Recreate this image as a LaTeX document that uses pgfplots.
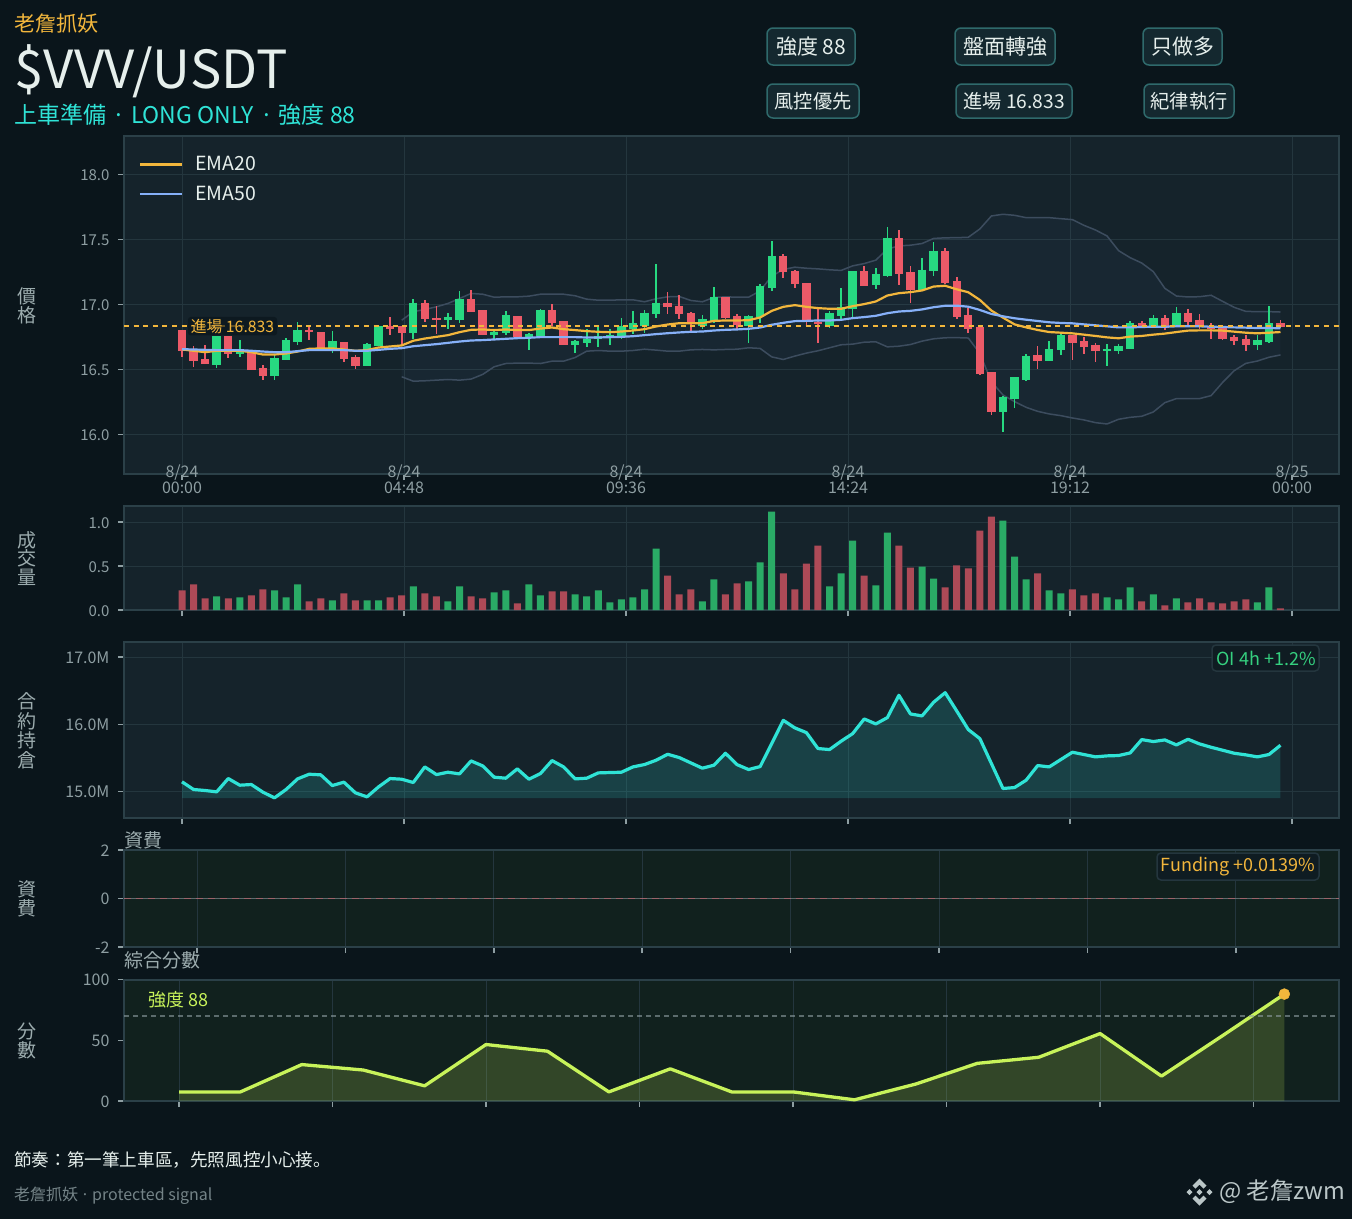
\documentclass[border=0pt]{standalone}
\usepackage{fontspec}
\setmainfont{Noto Sans CJK JP}
\usepackage{pgfplots}
\usepackage{pgfplotstable}
\pgfplotsset{compat=1.18}
\definecolor{bgc}{HTML}{0A151B}
\definecolor{panelc}{HTML}{15232B}
\definecolor{panelg}{HTML}{11211E}
\definecolor{borderc}{HTML}{2B4048}
\definecolor{gridc}{HTML}{24363E}
\definecolor{tickc}{HTML}{8E9EA2}
\definecolor{labelc}{HTML}{9CACAE}
\definecolor{upc}{HTML}{27D981}
\definecolor{downc}{HTML}{EC5A68}
\definecolor{volup}{HTML}{2AAB66}
\definecolor{voldown}{HTML}{AD4A57}
\definecolor{amber}{HTML}{F2B63C}
\definecolor{emablue}{HTML}{86B0F8}
\definecolor{bollc}{HTML}{3C4C5E}
\definecolor{teal}{HTML}{2FE3D6}
\definecolor{lime}{HTML}{C8F35A}
\definecolor{inkc}{HTML}{E6EFEC}
\definecolor{badgef}{HTML}{14282F}
\definecolor{badgel}{HTML}{2F6A6C}
\definecolor{boxf}{HTML}{0F1C22}
\definecolor{oigreen}{HTML}{35D07F}
\newcommand\fs[1]{\fontsize{#1}{#1}\selectfont}

\pgfplotstableread{
i o h l c v
3 16.533 16.754 16.510 16.754 0.155
5 16.618 16.726 16.595 16.636 0.143
8 16.451 16.610 16.418 16.587 0.223
9 16.572 16.741 16.572 16.726 0.143
10 16.710 16.864 16.690 16.800 0.291
13 16.654 16.795 16.628 16.718 0.109
16 16.526 16.700 16.526 16.695 0.109
17 16.679 16.833 16.679 16.833 0.109
20 16.782 17.046 16.733 17.015 0.268
23 16.882 16.933 16.810 16.900 0.098
24 16.882 17.103 16.856 17.046 0.268
27 16.764 16.815 16.736 16.790 0.200
28 16.782 16.949 16.764 16.918 0.223
30 16.746 16.777 16.649 16.772 0.291
31 16.759 16.962 16.751 16.956 0.166
34 16.690 16.726 16.628 16.718 0.177
35 16.703 16.810 16.674 16.733 0.155
36 16.733 16.823 16.674 16.759 0.223
37 16.751 16.810 16.687 16.769 0.087
38 16.751 16.895 16.733 16.833 0.121
39 16.815 16.949 16.772 16.854 0.143
40 16.838 16.956 16.782 16.938 0.234
41 16.928 17.310 16.895 17.015 0.698
45 16.838 16.918 16.810 16.885 0.098
46 16.874 17.133 16.854 17.054 0.347
49 16.838 16.918 16.703 16.910 0.325
50 16.900 17.154 16.859 17.141 0.540
51 17.126 17.487 17.103 17.372 1.117
56 16.838 16.949 16.821 16.931 0.268
57 16.915 17.126 16.887 16.977 0.415
58 16.969 17.254 16.903 17.254 0.789
60 17.151 17.279 17.118 17.231 0.279
61 17.221 17.595 17.210 17.510 0.879
64 17.115 17.356 17.110 17.269 0.494
65 17.256 17.479 17.218 17.415 0.358
71 16.173 16.296 16.019 16.288 1.015
72 16.273 16.440 16.204 16.440 0.608
73 16.419 16.619 16.414 16.601 0.347
75 16.568 16.719 16.568 16.655 0.223
76 16.653 16.773 16.612 16.765 0.189
80 16.642 16.696 16.527 16.658 0.143
81 16.642 16.696 16.619 16.681 0.121
82 16.658 16.873 16.658 16.855 0.257
84 16.835 16.919 16.829 16.896 0.177
86 16.835 16.981 16.829 16.935 0.132
93 16.688 16.765 16.650 16.727 0.087
94 16.712 16.988 16.704 16.855 0.257
}\upt

\pgfplotstableread{
i o h l c v
0 16.800 16.800 16.595 16.641 0.223
1 16.641 16.679 16.521 16.564 0.291
2 16.577 16.685 16.541 16.541 0.132
4 16.754 16.754 16.590 16.618 0.132
6 16.623 16.623 16.497 16.497 0.166
7 16.508 16.533 16.418 16.449 0.234
11 16.803 16.823 16.726 16.785 0.098
12 16.792 16.792 16.654 16.654 0.132
14 16.715 16.715 16.556 16.580 0.189
15 16.595 16.615 16.503 16.526 0.109
18 16.831 16.900 16.764 16.813 0.143
19 16.831 16.831 16.679 16.779 0.166
21 17.015 17.033 16.864 16.892 0.189
22 16.895 16.992 16.772 16.879 0.155
25 17.046 17.110 16.941 16.941 0.155
26 16.956 16.956 16.764 16.764 0.132
29 16.915 16.915 16.749 16.749 0.075
32 16.956 17.003 16.833 16.856 0.211
33 16.872 16.872 16.690 16.690 0.211
42 17.015 17.095 16.926 16.982 0.392
43 16.992 17.072 16.887 16.928 0.177
44 16.938 16.946 16.797 16.849 0.234
47 17.054 17.059 16.892 16.895 0.177
48 16.908 16.923 16.815 16.841 0.302
52 17.372 17.387 17.205 17.251 0.415
53 17.256 17.264 17.126 17.156 0.234
54 17.169 17.169 16.838 16.867 0.528
55 16.867 16.962 16.703 16.849 0.732
59 17.254 17.295 17.144 17.144 0.392
62 17.510 17.572 17.149 17.233 0.732
63 17.249 17.295 17.010 17.110 0.483
66 17.415 17.431 17.162 17.167 0.257
67 17.181 17.209 16.888 16.904 0.506
68 16.917 16.976 16.783 16.812 0.472
69 16.824 16.824 16.460 16.465 0.902
70 16.478 16.483 16.150 16.173 1.060
74 16.612 16.681 16.504 16.565 0.415
77 16.765 16.765 16.573 16.704 0.234
78 16.719 16.750 16.619 16.673 0.166
79 16.688 16.704 16.558 16.642 0.189
83 16.855 16.873 16.824 16.835 0.098
85 16.896 16.919 16.804 16.819 0.053
87 16.935 16.965 16.829 16.865 0.087
88 16.881 16.927 16.814 16.824 0.132
89 16.835 16.858 16.735 16.809 0.087
90 16.819 16.829 16.727 16.735 0.075
91 16.750 16.765 16.688 16.719 0.098
92 16.735 16.765 16.642 16.688 0.121
95 16.855 16.881 16.819 16.824 0.019
}\downt

\pgfplotstableread{
i e20 e50
0 16.654 16.656
1 16.644 16.654
2 16.633 16.651
3 16.644 16.649
4 16.644 16.649
5 16.644 16.649
6 16.633 16.644
7 16.615 16.638
8 16.615 16.633
9 16.623 16.633
10 16.638 16.641
11 16.659 16.649
12 16.662 16.649
13 16.662 16.649
14 16.654 16.649
15 16.644 16.644
16 16.649 16.644
17 16.669 16.651
18 16.677 16.659
19 16.685 16.664
20 16.721 16.679
21 16.738 16.687
22 16.751 16.695
23 16.764 16.705
24 16.787 16.715
25 16.805 16.723
26 16.808 16.726
27 16.803 16.731
28 16.808 16.736
29 16.803 16.741
30 16.803 16.744
31 16.815 16.749
32 16.823 16.749
33 16.810 16.749
34 16.803 16.749
35 16.795 16.746
36 16.790 16.746
37 16.787 16.749
38 16.792 16.751
39 16.800 16.756
40 16.810 16.764
41 16.831 16.772
42 16.846 16.779
43 16.856 16.785
44 16.856 16.790
45 16.856 16.792
46 16.874 16.800
47 16.877 16.805
48 16.877 16.808
49 16.879 16.813
50 16.900 16.823
51 16.951 16.844
52 16.982 16.859
53 16.995 16.872
54 16.982 16.874
55 16.972 16.877
56 16.967 16.877
57 16.967 16.882
58 16.987 16.895
59 17.003 16.903
60 17.023 16.913
61 17.069 16.933
62 17.087 16.946
63 17.095 16.951
64 17.108 16.962
65 17.138 16.979
66 17.144 16.990
67 17.117 16.991
68 17.094 16.983
69 17.035 16.958
70 16.953 16.927
71 16.899 16.909
72 16.847 16.894
73 16.824 16.883
74 16.804 16.873
75 16.788 16.863
76 16.783 16.858
77 16.778 16.855
78 16.768 16.847
79 16.758 16.840
80 16.747 16.832
81 16.740 16.824
82 16.753 16.824
83 16.758 16.827
84 16.768 16.829
85 16.776 16.829
86 16.788 16.832
87 16.799 16.832
88 16.801 16.832
89 16.801 16.829
90 16.799 16.827
91 16.791 16.824
92 16.783 16.822
93 16.778 16.819
94 16.783 16.819
95 16.788 16.817
}\emat

\pgfplotstableread{
i up lo
19 16.879 16.444
20 16.944 16.410
21 16.962 16.413
22 16.982 16.418
23 17.008 16.423
24 17.046 16.418
25 17.085 16.426
26 17.079 16.462
27 17.056 16.521
28 17.059 16.546
29 17.059 16.549
30 17.064 16.549
31 17.079 16.546
32 17.079 16.564
33 17.079 16.564
34 17.067 16.592
35 17.041 16.641
36 17.033 16.646
37 17.033 16.641
38 17.036 16.641
39 17.036 16.646
40 17.021 16.656
41 17.044 16.649
42 17.059 16.641
43 17.062 16.641
44 17.031 16.651
45 17.021 16.654
46 17.054 16.651
47 17.059 16.654
48 17.056 16.656
49 17.056 16.667
50 17.105 16.662
51 17.218 16.597
52 17.269 16.577
53 17.287 16.603
54 17.279 16.626
55 17.274 16.644
56 17.267 16.667
57 17.262 16.690
58 17.297 16.695
59 17.315 16.710
60 17.341 16.713
61 17.426 16.674
62 17.451 16.679
63 17.456 16.692
64 17.469 16.718
65 17.508 16.736
66 17.513 16.744
67 17.514 16.745
68 17.517 16.742
69 17.581 16.624
70 17.681 16.406
71 17.694 16.304
72 17.686 16.253
73 17.668 16.209
74 17.668 16.178
75 17.668 16.158
76 17.660 16.145
77 17.653 16.127
78 17.609 16.112
79 17.573 16.091
80 17.527 16.081
81 17.414 16.117
82 17.360 16.132
83 17.319 16.140
84 17.253 16.173
85 17.124 16.245
86 17.065 16.276
87 17.058 16.276
88 17.060 16.276
89 17.071 16.299
90 17.024 16.401
91 16.978 16.491
92 16.947 16.547
93 16.945 16.565
94 16.945 16.594
95 16.942 16.612
}\bollt

\pgfplotstableread{
i oi
0 15.144
1 15.030
2 15.015
3 14.995
4 15.193
5 15.094
6 15.104
7 14.990
8 14.906
9 15.030
10 15.188
11 15.257
12 15.248
13 15.089
14 15.139
15 14.980
16 14.921
17 15.069
18 15.193
19 15.183
20 15.134
21 15.366
22 15.252
23 15.287
24 15.262
25 15.455
26 15.381
27 15.213
28 15.198
29 15.337
30 15.183
31 15.267
32 15.460
33 15.366
34 15.188
35 15.198
36 15.277
37 15.282
38 15.287
39 15.366
40 15.401
41 15.465
42 15.554
43 15.505
44 15.426
45 15.347
46 15.391
47 15.569
48 15.400
49 15.327
50 15.371
51 15.713
52 16.059
53 15.946
54 15.876
55 15.639
56 15.624
57 15.748
58 15.861
59 16.079
60 16.005
61 16.099
62 16.431
63 16.153
64 16.124
65 16.327
66 16.470
67 16.198
68 15.921
69 15.787
70 15.416
71 15.045
72 15.059
73 15.168
74 15.386
75 15.366
76 15.475
77 15.584
78 15.550
79 15.515
80 15.530
81 15.535
82 15.574
83 15.772
84 15.743
85 15.767
86 15.693
87 15.777
88 15.708
89 15.658
90 15.614
91 15.569
92 15.545
93 15.515
94 15.550
95 15.688
}\oit
\pgfplotstableread{
i oi
95 14.9
0 14.9
}\oibase
\pgfplotstablevertcat{\oiarea}{\oit}
\pgfplotstablevertcat{\oiarea}{\oibase}

\pgfplotstableread{
i s
0 7.5
1 7.5
2 30
3 25.5
4 12.5
5 46.5
6 41
7 7.5
8 26.5
9 7.5
10 7.5
11 1
12 14
13 31
14 36
15 55.5
16 20.5
17 54
18 88
}\scoret

\pgfplotsset{
  panel/.style={
    scale only axis, width=1215pt, anchor=south west,
    axis background/.style={fill=panelc},
    axis line style={draw=borderc,line width=2pt},
    grid=major, grid style={draw=gridc,line width=1pt},
    tick style={draw=tickc,line width=1.5pt},
    major tick length=6pt, tick align=outside,
    xtick pos=bottom, ytick pos=left,
    yticklabel style={font=\fs{15},text=tickc,xshift=-5pt,yshift=-0.7pt},
    xticklabel style={font=\fs{16},text=tickc},
  },
}
\newcommand\candleplot[2]{%
  \addplot[forget plot,draw=none,mark=none,error bars/.cd,y dir=both,y explicit,error mark=none,
    error bar style={draw=#2,line width=1.6pt,solid}]
    table[x=i,y=c,y error plus expr=\thisrow{h}-\thisrow{c},y error minus expr=\thisrow{c}-\thisrow{l}]{#1};
  \addplot[forget plot,draw=none,mark=none,error bars/.cd,y dir=both,y explicit,error mark=none,
    error bar style={draw=#2,line width=8.4pt,solid}]
    table[x=i,y=c,y error plus expr={max(\thisrow{o},\thisrow{c})-\thisrow{c}},y error minus expr={\thisrow{c}-min(\thisrow{o},\thisrow{c})}]{#1};
}
\begin{document}
\begin{tikzpicture}[x=1pt,y=-1pt]
\fill[bgc,use as bounding box] (0,0) rectangle (1352,1219);

% price
\begin{axis}[panel, at={(124pt,-474pt)}, height=338pt,
  xmin=-5.016, xmax=100.06, ymin=15.696, ymax=18.296,
  xtick={0,19.2,38.4,57.6,76.8,96},
  xticklabels={{8/24\\00:00},{8/24\\04:48},{8/24\\09:36},{8/24\\14:24},{8/24\\19:12},{8/25\\00:00}},
  xticklabel style={align=center,yshift=19pt},
  ytick={16,16.5,17,17.5,18}, yticklabels={16.0,16.5,17.0,17.5,18.0},
  legend style={draw=none,fill=none,font=\fs{19.5},text=inkc,at={(axis cs:-3.75,18.155)},anchor=north west,row sep=9.5pt,column sep=10pt,inner sep=0pt},
  legend cell align=left,
  legend image code/.code={\draw[#1] (0pt,0pt) -- (42pt,0pt);},
]
% area between the bands: upper band, then lower band reversed
\addplot[forget plot,fill=emablue,fill opacity=0.035,draw=none] coordinates {
(19,16.879)(20,16.944)(21,16.962)(22,16.982)(23,17.008)(24,17.046)(25,17.085)(26,17.079)(27,17.056)(28,17.059)(29,17.059)(30,17.064)(31,17.079)(32,17.079)(33,17.079)(34,17.067)(35,17.041)(36,17.033)(37,17.033)(38,17.036)(39,17.036)(40,17.021)(41,17.044)(42,17.059)(43,17.062)(44,17.031)(45,17.021)(46,17.054)(47,17.059)(48,17.056)(49,17.056)(50,17.105)(51,17.218)(52,17.269)(53,17.287)(54,17.279)(55,17.274)(56,17.267)(57,17.262)(58,17.297)(59,17.315)(60,17.341)(61,17.426)(62,17.451)(63,17.456)(64,17.469)(65,17.508)(66,17.513)(67,17.514)(68,17.517)(69,17.581)(70,17.681)(71,17.694)(72,17.686)(73,17.668)(74,17.668)(75,17.668)(76,17.660)(77,17.653)(78,17.609)(79,17.573)(80,17.527)(81,17.414)(82,17.360)(83,17.319)(84,17.253)(85,17.124)(86,17.065)(87,17.058)(88,17.060)(89,17.071)(90,17.024)(91,16.978)(92,16.947)(93,16.945)(94,16.945)(95,16.942)
(95,16.612)(94,16.594)(93,16.565)(92,16.547)(91,16.491)(90,16.401)(89,16.299)(88,16.276)(87,16.276)(86,16.276)(85,16.245)(84,16.173)(83,16.140)(82,16.132)(81,16.117)(80,16.081)(79,16.091)(78,16.112)(77,16.127)(76,16.145)(75,16.158)(74,16.178)(73,16.209)(72,16.253)(71,16.304)(70,16.406)(69,16.624)(68,16.742)(67,16.745)(66,16.744)(65,16.736)(64,16.718)(63,16.692)(62,16.679)(61,16.674)(60,16.713)(59,16.710)(58,16.695)(57,16.690)(56,16.667)(55,16.644)(54,16.626)(53,16.603)(52,16.577)(51,16.597)(50,16.662)(49,16.667)(48,16.656)(47,16.654)(46,16.651)(45,16.654)(44,16.651)(43,16.641)(42,16.641)(41,16.649)(40,16.656)(39,16.646)(38,16.641)(37,16.641)(36,16.646)(35,16.641)(34,16.592)(33,16.564)(32,16.564)(31,16.546)(30,16.549)(29,16.549)(28,16.546)(27,16.521)(26,16.462)(25,16.426)(24,16.418)(23,16.423)(22,16.418)(21,16.413)(20,16.410)(19,16.444)
};
\addplot[forget plot,draw=bollc,line width=1.5pt] table[x=i,y=up]{\bollt};
\addplot[forget plot,draw=bollc,line width=1.5pt] table[x=i,y=lo]{\bollt};
\candleplot{\upt}{upc}
\candleplot{\downt}{downc}
\addplot[amber,line width=2.2pt] table[x=i,y=e20]{\emat};
\addlegendentry{EMA20}
\addplot[emablue,line width=2.2pt] table[x=i,y=e50]{\emat};
\addlegendentry{EMA50}
\addplot[forget plot,amber,line width=2pt,dash pattern=on 5pt off 4.6pt] coordinates {(-5.016,16.833)(100.06,16.833)};
\node[font=\fs{15.8},text=amber,fill=bgc,fill opacity=0.65,text opacity=1,rounded corners=3pt,inner xsep=3pt,inner ysep=2pt] at (axis cs:4.37,16.833) {進場 16.833};
\end{axis}

% volume
\begin{axis}[panel, at={(124pt,-610pt)}, height=104pt,
  xmin=-5.016, xmax=100.06, ymin=0, ymax=1.182,
  xtick={0,19.2,38.4,57.6,76.8,96}, xticklabels={},
  ytick={0,0.5,1}, yticklabels={0.0,0.5,1.0},
]
\addplot[ybar,bar width=7pt,bar shift=0pt,fill=volup,draw=none] table[x=i,y=v]{\upt};
\addplot[ybar,bar width=7pt,bar shift=0pt,fill=voldown,draw=none] table[x=i,y=v]{\downt};
\end{axis}

% open interest
\begin{axis}[panel, at={(124pt,-818pt)}, height=176pt,
  xmin=-5.016, xmax=100.06, ymin=14.606, ymax=17.223,
  xtick={0,19.2,38.4,57.6,76.8,96}, xticklabels={},
  ytick={15,16,17}, yticklabels={15.0M,16.0M,17.0M},
  yticklabel style={font=\fs{16}},
]
\addplot[fill=teal,fill opacity=0.16,draw=none] table[x=i,y=oi]{\oiarea};
\addplot[teal,line width=3.2pt,line join=round] table[x=i,y=oi]{\oit};
\end{axis}

% funding
\begin{axis}[panel, at={(124pt,-947pt)}, height=97pt,
  axis background/.style={fill=panelg},
  xmin=-0.492, xmax=7.695, ymin=-2, ymax=2,
  xtick={0,1,2,3,4,5,6,7}, xticklabels={},
  ytick={-2,0,2}, yticklabels={-2,0,2},
  ymajorgrids=false,
  yticklabel style={font=\fs{16}},
]
\addplot[draw=tickc,line width=1.5pt,opacity=.6] coordinates {(-0.492,0)(7.695,0)};
\addplot[draw=downc,line width=1.2pt,opacity=.45,dash pattern=on 7pt off 5pt] coordinates {(-0.492,0.0139)(7.695,0.0139)};
\end{axis}

% score
\begin{axis}[panel, at={(124pt,-1101pt)}, height=121.5pt,
  axis background/.style={fill=panelg},
  xmin=-0.896, xmax=18.89, ymin=0, ymax=100,
  xtick={0,2.5,5,7.5,10,12.5,15,17.5}, xticklabels={},
  ytick={0,50,100}, yticklabels={0,50,100},
  ymajorgrids=false,
  yticklabel style={font=\fs{16}},
]
\addplot[fill=lime,fill opacity=0.18,draw=none] table[x=i,y=s]{\scoret} \closedcycle;
\addplot[lime,line width=3.3pt,line join=round] table[x=i,y=s]{\scoret};
\addplot[draw=tickc,line width=1.5pt,dash pattern=on 5pt off 4pt,opacity=.6] coordinates {(-0.896,70)(18.89,70)};
\addplot[only marks,mark=*,mark size=5.5pt,mark options={fill=amber,draw=amber}] coordinates {(18,88)};
\end{axis}

% header
\node[anchor=west,inner sep=0pt,font=\fs{21},text=amber] at (14,24) {老詹抓妖};
\node[anchor=west,inner sep=0pt,font=\fs{52.5},text=inkc] at (14,71) {\$VVV/USDT};
\node[anchor=west,inner sep=0pt,font=\fs{23},text=teal] at (14,115) {上車準備\hspace{6pt}·\hspace{6pt}LONG ONLY\hspace{6pt}·\hspace{6pt}強度 88};
\newcommand\badge[6]{%
  \draw[rounded corners=6pt,fill=badgef,draw=badgel,line width=1.5pt] (#1,#2) rectangle (#3,#4);
  \node[font=\fs{#5},text=inkc,inner sep=0pt] at ({(#1+#3)/2},{(#2+#4)/2}) {#6};
}
\badge{767}{28}{855}{65}{21}{強度 88}
\badge{955}{28}{1055}{65}{21}{盤面轉強}
\badge{1143}{28}{1222}{65}{21}{只做多}
\badge{767}{84}{859}{118}{19.2}{風控優先}
\badge{956}{84}{1072}{118}{19.2}{進場 16.833}
\badge{1144}{84}{1234}{118}{19.2}{紀律執行}

% panel side labels
\node[font=\fs{19},text=labelc,inner sep=0pt] at (27,296) {價};
\node[font=\fs{19},text=labelc,inner sep=0pt] at (27,315) {格};
\node[font=\fs{19},text=labelc,inner sep=0pt] at (27,540) {成};
\node[font=\fs{19},text=labelc,inner sep=0pt] at (27,558) {交};
\node[font=\fs{19},text=labelc,inner sep=0pt] at (27,577) {量};
\node[font=\fs{19},text=labelc,inner sep=0pt] at (27,701) {合};
\node[font=\fs{19},text=labelc,inner sep=0pt] at (27,721) {約};
\node[font=\fs{19},text=labelc,inner sep=0pt] at (27,740) {持};
\node[font=\fs{19},text=labelc,inner sep=0pt] at (27,760) {倉};
\node[font=\fs{19},text=labelc,inner sep=0pt] at (27,889) {資};
\node[font=\fs{19},text=labelc,inner sep=0pt] at (27,908) {費};
\node[font=\fs{19},text=labelc,inner sep=0pt] at (27,1031) {分};
\node[font=\fs{19},text=labelc,inner sep=0pt] at (27,1050) {數};
\node[anchor=west,inner sep=0pt,font=\fs{19},text=labelc] at (124,840) {資費};
\node[anchor=west,inner sep=0pt,font=\fs{19},text=labelc] at (124,960) {綜合分數};

% boxed tags
\draw[rounded corners=4pt,fill=boxf,draw=gridc,line width=1.5pt] (1212,645) rectangle (1319,671);
\node[font=\fs{18},text=oigreen,inner sep=0pt] at (1266,658) {OI 4h +1.2\%};
\draw[rounded corners=4pt,fill=boxf,draw=gridc,line width=1.5pt] (1157,853) rectangle (1319,880);
\node[font=\fs{18},text=amber,inner sep=0pt] at (1238,867) {Funding +0.0139\%};
\node[anchor=west,inner sep=0pt,font=\fs{18},text=lime] at (148,1000) {強度 88};

% footer
\node[anchor=west,inner sep=0pt,font=\fs{17.6},text=inkc] at (14,1160) {節奏：第一筆上車區，先照風控小心接。};
\node[anchor=west,inner sep=0pt,font=\fs{16},text=tickc!80!bgc] at (14,1196) {老詹抓妖\hspace{2.5pt}·\hspace{2.5pt}protected signal};
\begin{scope}[shift={(1199.5,1192)},y=1pt]
\fill[tickc!50!inkc]
  (0,13.5) -- (7,6.5) -- (4,3.5) -- (0,7.5) -- (-4,3.5) -- (-7,6.5) -- cycle
  (0,-13.5) -- (7,-6.5) -- (4,-3.5) -- (0,-7.5) -- (-4,-3.5) -- (-7,-6.5) -- cycle
  (0,3) -- (3,0) -- (0,-3) -- (-3,0) -- cycle
  (-10,3) -- (-7,0) -- (-10,-3) -- (-13,0) -- cycle
  (10,3) -- (13,0) -- (10,-3) -- (7,0) -- cycle;
\end{scope}
\node[anchor=west,inner sep=0pt,font=\fs{23.5},text=tickc!50!inkc] at (1219,1192) {@ 老詹zwm};
\end{tikzpicture}
\end{document}
